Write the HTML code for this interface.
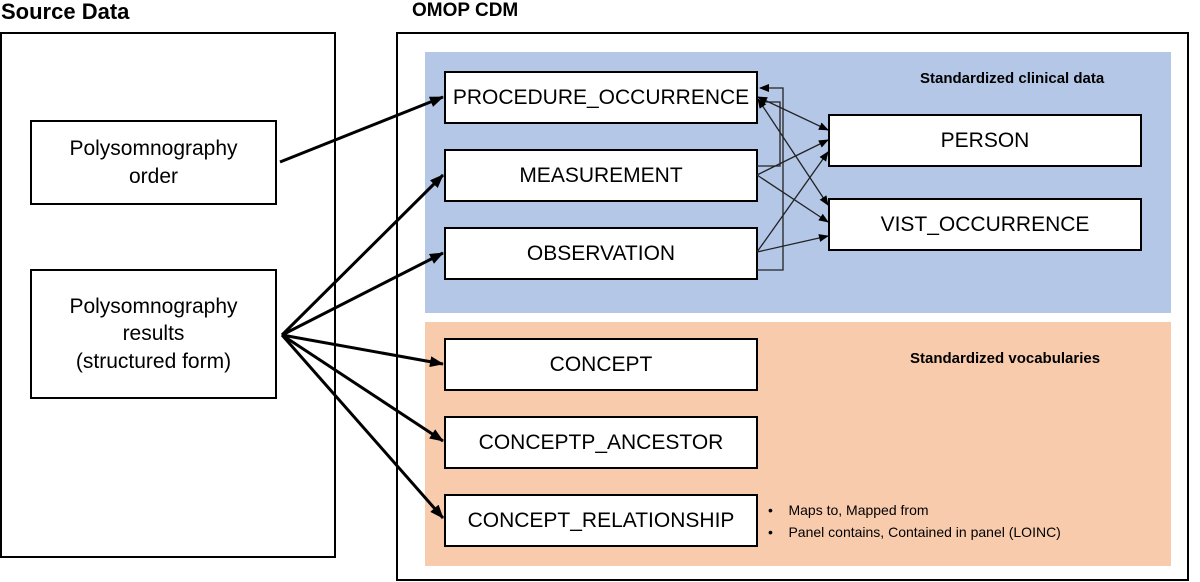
<!DOCTYPE html>
<html><head><style>
body{margin:0;width:1200px;height:582px;background:#fff;font-family:"Liberation Sans",sans-serif;position:relative;overflow:hidden}
.a{position:absolute;box-sizing:border-box}
.b{position:absolute;box-sizing:border-box;border:2px solid #000;background:#fff;display:flex;align-items:center;justify-content:center;text-align:center;font-size:21px;line-height:1.3}
.t{position:absolute;font-weight:bold;font-size:19px}
</style></head><body>
<div class="t" style="left:1px;top:-1px;font-size:22px">Source Data</div>
<div class="t" style="left:412px;top:0px">OMOP CDM</div>
<div class="a" style="left:0;top:32px;width:336px;height:526px;border:2px solid #000"></div>
<div class="a" style="left:396px;top:32px;width:793px;height:549px;border:2px solid #000"></div>
<div class="a" style="left:425px;top:52px;width:746px;height:261px;background:#b4c7e7"></div>
<div class="a" style="left:425px;top:322px;width:746px;height:244px;background:#f8cbad"></div>
<div class="t" style="left:920px;top:70px;font-size:15px">Standardized clinical data</div>
<div class="t" style="left:910px;top:350px;font-size:15px">Standardized vocabularies</div>
<div class="b" style="left:30px;top:120px;width:247px;height:85px">Polysomnography<br>order</div>
<div class="b" style="left:30px;top:269px;width:247px;height:130px">Polysomnography<br>results<br>(structured form)</div>
<div class="b" style="left:444px;top:71px;width:314px;height:53px">PROCEDURE_OCCURRENCE</div>
<div class="b" style="left:444px;top:149px;width:314px;height:53px">MEASUREMENT</div>
<div class="b" style="left:444px;top:227px;width:314px;height:53px">OBSERVATION</div>
<div class="b" style="left:828px;top:114px;width:314px;height:53px">PERSON</div>
<div class="b" style="left:828px;top:198px;width:314px;height:53px">VIST_OCCURRENCE</div>
<div class="b" style="left:444px;top:338px;width:314px;height:53px">CONCEPT</div>
<div class="b" style="left:444px;top:416px;width:314px;height:53px">CONCEPTP_ANCESTOR</div>
<div class="b" style="left:444px;top:494px;width:314px;height:53px">CONCEPT_RELATIONSHIP</div>
<div class="a" style="left:768px;top:499px;font-size:14px;line-height:22px;white-space:nowrap">•&nbsp;&nbsp;&nbsp;&nbsp;Maps to, Mapped from<br>•&nbsp;&nbsp;&nbsp;&nbsp;Panel contains, Contained in panel (LOINC)</div>
<svg class="a" style="left:0;top:0" width="1200" height="582">
<defs>
<marker id="m" markerWidth="10" markerHeight="8" refX="9" refY="4" orient="auto" markerUnits="userSpaceOnUse"><path d="M0,0L10,4L0,8z"/></marker>
<marker id="M" markerWidth="14" markerHeight="11" refX="13" refY="5.5" orient="auto" markerUnits="userSpaceOnUse"><path d="M0,0L14,5.5L0,11z"/></marker>
<marker id="s" markerWidth="10" markerHeight="8" refX="9" refY="4" orient="auto-start-reverse" markerUnits="userSpaceOnUse"><path d="M0,0L10,4L0,8z"/></marker>
</defs>
<g stroke="#000" stroke-width="3" fill="none" marker-end="url(#M)">
<line x1="280" y1="162" x2="443" y2="97"/>
<line x1="282" y1="335" x2="443" y2="175"/>
<line x1="282" y1="335" x2="443" y2="253"/>
<line x1="282" y1="335" x2="443" y2="364"/>
<line x1="282" y1="335" x2="443" y2="441"/>
<line x1="282" y1="335" x2="443" y2="518"/>
</g>
<g stroke="#222" stroke-width="1.3" fill="none">
<polyline points="757,270 783,270 783,88 760,88" marker-end="url(#m)"/>
<polyline points="757,166 780,166 780,102 759,102"/>
<line x1="758" y1="97" x2="828" y2="130" marker-start="url(#s)" marker-end="url(#m)"/>
<line x1="758" y1="99" x2="828" y2="205" marker-start="url(#s)" marker-end="url(#m)"/>
<line x1="757" y1="175" x2="828" y2="140" marker-end="url(#m)"/>
<line x1="757" y1="175" x2="828" y2="222" marker-end="url(#m)"/>
<line x1="757" y1="252" x2="828" y2="152" marker-end="url(#m)"/>
<line x1="757" y1="252" x2="828" y2="236" marker-end="url(#m)"/>
</g>
</svg>
</body></html>
